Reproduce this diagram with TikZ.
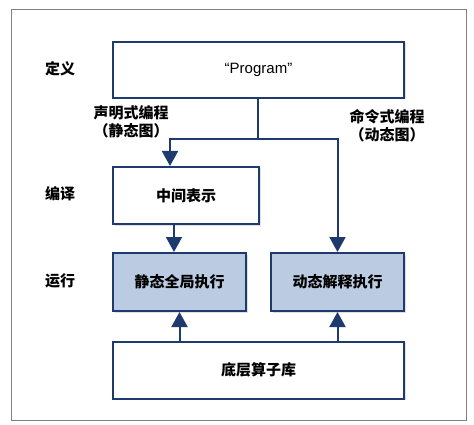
\documentclass[tikz,border=0pt]{standalone}
\usepackage{fontspec}
\setmainfont{Noto Sans CJK SC}
\newfontfamily\latinfont{Liberation Sans}
\usetikzlibrary{arrows.meta,shadows}
\definecolor{navy}{HTML}{1F3A6E}
\definecolor{paleblue}{HTML}{BACBE2}
\begin{document}
\begin{tikzpicture}[x=1pt, y=-1pt,%
      block/.style={rectangle, draw=navy, line width=2pt, fill=white, text centered, font=\fontsize{15}{18}\selectfont\bfseries, drop shadow={shadow xshift=1.5pt, shadow yshift=-1.5pt, opacity=0.25}},
      runblock/.style={block, fill=paleblue},
      label/.style={font=\fontsize{15}{18}\selectfont\bfseries, align=center},
      line/.style={draw=navy, line width=2pt, -{Triangle[width=16pt, length=15pt]}},
      stem/.style={draw=navy, line width=2pt}
      ]
    \useasboundingbox (0, 0) rectangle (474, 425);
    \draw [gray, line width=1pt] (11, 10) rectangle (466, 420);

    \node [block, minimum width=291pt, minimum height=56pt] (prog) at (258.5, 70) {\latinfont\mdseries\char"201CProgram\char"201D};
    \node [block, minimum width=146pt, minimum height=57pt] (ir) at (186, 195.5) {中间表示};
    \node [runblock, minimum width=133pt, minimum height=58pt] (static) at (179.5, 282) {静态全局执行};
    \node [runblock, minimum width=133pt, minimum height=58pt] (dynamic) at (337.5, 282) {动态解释执行};
    \node [block, minimum width=291pt, minimum height=57pt] (ops) at (258.5, 370) {底层算子库};

    \node [label] (def) at (60, 69) {定义};
    \node [label] (comp) at (60, 194) {编译};
    \node [label] (run) at (60, 281) {运行};
    \node [label] (decl) at (131, 122) {声明式编程\\（静态图）};
    \node [label] (imp) at (387, 126) {命令式编程\\（动态图）};

    \coordinate (split) at (258, 139);
    \coordinate (lft) at (170, 139);
    \coordinate (rgt) at (337.5, 139);
    \path [stem] (prog.south -| split) -- (split);
    \path [line] (split) -- (lft) -- (lft |- ir.north);
    \path [line] (split) -- (rgt) -- (dynamic.north);
    \path [line] ([xshift=-12pt]ir.south) -- ([xshift=-12pt]ir.south |- static.north);
    \path [line] (ops.north -| static.south) -- (static.south);
    \path [line] (ops.north -| dynamic.south) -- (dynamic.south);
  \end{tikzpicture}
\end{document}
